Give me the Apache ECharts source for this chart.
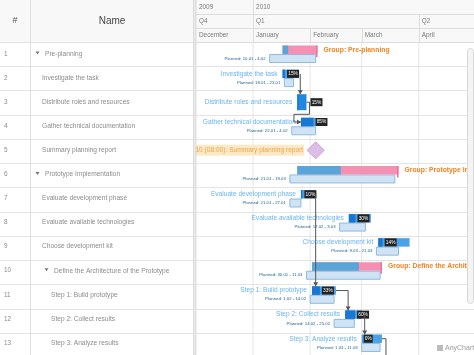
<!DOCTYPE html>
<html><head><meta charset="utf-8">
<script src="https://cdn.jsdelivr.net/npm/echarts@6/dist/echarts.min.js"></script>
<style>html,body{margin:0;padding:0;background:#fff}#c{width:474px;height:355px}</style>
</head><body><div id="c"></div>
<script>
// ---------- data ----------
const rowNumbers = ['1','2','3','4','5','6','7','8','9','10','11','12','13'];
const taskNames = ['Pre-planning','Investigate the task','Distribute roles and resources','Gather technical documentation','Summary planning report','Prototype Implementation','Evaluate development phase','Evaluate available technologies','Choose development kit','Define the Architecture of the Prototype','Step 1: Build prototype','Step 2: Collect results','Step 3: Analyze results'];
const taskLevels = [0,1,1,1,1,0,1,1,1,1,2,2,2];
const taskKinds = ['group','task','task','task','milestone','group','task','task','task','group','task','task','task'];
const actualStart = ['2010-01-17','2010-01-17','2010-01-25','2010-01-27','2010-02-04','2010-01-25','2010-01-27','2010-02-22','2010-03-10','2010-02-02','2010-02-02','2010-02-20','2010-03-01'];
const actualEnd   = ['2010-02-05','2010-01-26','2010-01-30','2010-02-04',null,'2010-03-21','2010-02-04','2010-03-06','2010-03-27','2010-03-12','2010-02-15','2010-03-01','2010-03-12'];
const progressPct = [16,15,15,85,null,43,10,30,14,67,33,60,0];
const plannedStart = ['2010-01-10','2010-01-18',null,'2010-01-22',null,'2010-01-21','2010-01-21','2010-02-17','2010-03-09','2010-01-30','2010-02-01','2010-02-14','2010-03-01'];
const plannedEnd   = ['2010-02-04','2010-01-23',null,'2010-02-04',null,'2010-03-19','2010-01-27','2010-03-03','2010-03-21','2010-03-11','2010-02-14','2010-02-25','2010-03-11'];
const milestoneText = '10 (08:00): Summary planning report';
const linkFrom = [1,2,6,10,11,12];
const linkTo   = [2,3,10,11,12,-1];
const yearLabels = ['2009','2010'];
const yearStarts = ['2009-01-01','2010-01-01'];
const quarterLabels = ['Q4','Q1','Q2'];
const quarterStarts = ['2009-10-01','2010-01-01','2010-04-01'];
const monthLabels = ['December','January','February','March','April'];
const monthStarts = ['2009-12-01','2010-01-01','2010-02-01','2010-03-01','2010-04-01'];
const axisMin = '2009-12-01', axisMax = '2010-05-01';

// ---------- helpers ----------
const T = s => { const p = s.split('-').map(Number); return new Date(p[0], p[1]-1, p[2]).getTime(); };
const fmt = s => { const p = s.split('-').map(Number); return p[2] + '.' + String(p[1]).padStart(2,'0'); };
const FONT = '"Liberation Sans", Arial, sans-serif';
const f = (sz, w) => (w ? w + ' ' : '') + sz + 'px ' + FONT;
const N = taskNames.length;
const ROW = 24.25;
function txt(x, y, text, font, fill, align, valign, extra) {
  return Object.assign({type:'text', style:{x, y, text, font, fill, align: align||'left', verticalAlign: valign||'middle', textAlign: align||'left', textVerticalAlign: valign||'middle'}}, extra||{});
}

function renderTask(params, api) {
  const i = api.value(0);
  const cy = api.coord([T(axisMin), i])[1];
  const X = d => api.coord([T(d), i])[0];
  const kind = taskKinds[i];
  const ch = [];
  if (kind === 'milestone') {
    const x = X(actualStart[i]);
    const r = 8.5;
    const right = x - r - 3;
    ch.push({type:'rect', shape:{x: right - 112, y: cy - 5.5, width: 112, height: 11}, style:{fill:'#fde9c6'}});
    ch.push(txt(right - 1, cy, milestoneText, f(6.6), '#eda448', 'right'));
    ch.push({type:'polygon', shape:{points:[[x, cy - r],[x + r, cy],[x, cy + r],[x - r, cy]]}, style:{fill:'#dcbde6', stroke:'#c8a2d6', lineWidth:1}});
    return {type:'group', children: ch};
  }
  const hasPlan = plannedStart[i] != null;
  const aTop = hasPlan ? cy - 8.5 : cy - 8;
  const aH = hasPlan ? 8.5 : 16;
  const xs = X(actualStart[i]), xe = X(actualEnd[i]);
  const xp = xs + (xe - xs) * progressPct[i] / 100;
  let pe = xe;
  if (hasPlan) {
    const ps = X(plannedStart[i]); pe = X(plannedEnd[i]);
    ch.push({type:'rect', shape:{x: ps, y: cy + 0.5, width: pe - ps, height: 8}, style:{fill:'#cfe3f5', stroke:'#8dbbe0', lineWidth:1}});
    ch.push(txt(ps - 4, cy + 4.5, 'Planned: ' + fmt(plannedStart[i]) + ' - ' + fmt(plannedEnd[i]), f(4.3), '#1d5f90', 'right'));
  }
  if (kind === 'group') {
    ch.push({type:'rect', shape:{x: xs, y: aTop, width: xe - xs, height: aH}, style:{fill:'#f590b2'}});
    ch.push({type:'rect', shape:{x: xs, y: aTop, width: xp - xs, height: aH}, style:{fill:'#59a5da'}});
    ch.push({type:'rect', shape:{x: xe - 1.5, y: aTop, width: 1.5, height: aH + 3}, style:{fill:'#e9749d'}});
    ch.push(txt(Math.max(xe, pe) + 6, aTop + aH / 2, 'Group: ' + taskNames[i], f(6.8, 'bold'), '#f0831e', 'left'));
  } else {
    ch.push({type:'rect', shape:{x: xs, y: aTop, width: xe - xs, height: aH}, style:{fill: hasPlan ? '#4aa3e6' : '#1f87de'}});
    ch.push({type:'rect', shape:{x: xs, y: aTop, width: xp - xs, height: aH}, style:{fill:'#1976d2'}});
    ch.push(txt(xs - 5, aTop + aH / 2, taskNames[i], f(6.6), '#6bb4ef', 'right'));
    const label = progressPct[i] + '%';
    const bw = label.length * 3 + 3;
    const bx = hasPlan ? xp + 2 : xe + 4;
    const by = aTop + aH / 2 - 4;
    ch.push({type:'rect', shape:{x: bx, y: by, width: bw, height: 8}, style:{fill:'#232323'}});
    ch.push(txt(bx + bw / 2, by + 4, label, f(4.8), '#ffffff', 'center'));
  }
  return {type:'group', children: ch};
}

function barGeom(api, i) {
  const cy = api.coord([T(axisMin), i])[1];
  const hasPlan = plannedStart[i] != null;
  return {
    cy,
    top: hasPlan ? cy - 8.5 : cy - 8,
    mid: hasPlan ? cy - 4.25 : cy,
    xs: api.coord([T(actualStart[i]), i])[0],
    xe: api.coord([T(actualEnd[i]), i])[0]
  };
}

function renderLink(params, api) {
  const p = api.value(0), s = api.value(1);
  const a = barGeom(api, p);
  const col = '#555555';
  const ch = [];
  const line = pts => ch.push({type:'polyline', shape:{points: pts}, style:{stroke: col, lineWidth: 1, fill: null}});
  const arrowDown = (x, y) => ch.push({type:'polygon', shape:{points:[[x - 2.5, y - 4],[x + 2.5, y - 4],[x, y]]}, style:{fill: col}});
  const arrowRight = (x, y) => ch.push({type:'polygon', shape:{points:[[x - 4, y - 2.5],[x - 4, y + 2.5],[x, y]]}, style:{fill: col}});
  if (s < 0) {
    line([[a.xe, a.mid],[a.xe + 4, a.mid],[a.xe + 4, a.cy + ROW]]);
    return {type:'group', children: ch};
  }
  const b = barGeom(api, s);
  const d = a.xe - b.xs;
  if (d < -3) {
    const x = b.xs + 3;
    line([[a.xe, a.mid],[x, a.mid],[x, b.top]]);
    arrowDown(x, b.top);
  } else if (d <= 5) {
    const x = Math.max(a.xe, b.xs + 3);
    line([[x, a.mid],[x, b.top]]);
    arrowDown(x, b.top);
  } else {
    const yb = a.cy + ROW / 2;
    line([[a.xe, a.mid],[a.xe + 3, a.mid],[a.xe + 3, yb],[b.xs - 7, yb],[b.xs - 7, b.mid],[b.xs, b.mid]]);
    arrowRight(b.xs, b.mid);
  }
  return {type:'group', children: ch};
}

const chart = echarts.init(document.getElementById('c'));
chart.setOption({
  animation: false,
  grid: {left: 196, top: 42, right: 0, height: N * ROW, containLabel: false},
  xAxis: {type: 'time', min: T(axisMin), max: T(axisMax), show: false},
  yAxis: {type: 'category', inverse: true, data: rowNumbers, show: false},
  series: [
    {type: 'custom', renderItem: renderTask, clip: true, z: 3, data: taskNames.map((_, i) => [i])},
    {type: 'custom', renderItem: renderLink, clip: true, z: 4, data: linkFrom.map((p, k) => [p, linkTo[k]])}
  ]
});

// ---------- table, header and grid lines via the axes ----------
const px = d => chart.convertToPixel({xAxisIndex: 0}, T(d));
const py = i => chart.convertToPixel({yAxisIndex: 0}, i);
const L = 196, W = 474;
const g = [];
const gl = (x1, y1, x2, y2, c, w) => g.push({type:'line', shape:{x1, y1, x2, y2}, style:{stroke: c, lineWidth: w || 1}, silent: true});
const gt = (x, y, t, font, fill, align, z) => g.push(Object.assign(txt(x, y, t, font, fill, align), {z: z || 10}));

// header backgrounds
g.push({type:'rect', shape:{x:0, y:0, width:W, height:42}, style:{fill:'#f8f8f8'}});
// body month lines
monthStarts.forEach(d => { const x = px(d); if (x > L + 1) gl(x, 42, x, 355, '#e6e6e6'); });
// row lines
for (let k = 0; k <= N; k++) {
  const y = Math.round(py(0) - ROW / 2 + k * ROW) + 0.5;
  gl(0, y, W, y, '#e3e3e3');
}
// header bands
[[yearLabels, yearStarts, 0], [quarterLabels, quarterStarts, 14], [monthLabels, monthStarts, 28]].forEach(([labs, starts, y0]) => {
  labs.forEach((lab, k) => {
    const x = px(starts[k]);
    if (x > L + 1) gl(Math.round(x) + 0.5, y0, Math.round(x) + 0.5, y0 + 14, '#dddddd');
    gt(Math.max(x, L) + 3, y0 + 7.5, lab, f(6.4), '#7a7a7a', 'left');
  });
  gl(L, y0 + 14.5, W, y0 + 14.5, '#dddddd');
});
// table header
gt(15, 21, '#', f(9), '#555555', 'center');
gt(112, 21, 'Name', f(10), '#474747', 'center');
gl(30.5, 0, 30.5, 355, '#e0e0e0');
// table rows
taskNames.forEach((name, i) => {
  const y = py(i);
  gt(4, y, rowNumbers[i], f(6.4), '#8a8a8a', 'left');
  const isGroup = taskKinds[i] === 'group';
  const lv = taskLevels[i];
  let tx;
  if (isGroup) {
    const ax = lv === 0 ? 37.5 : 46.5;
    g.push({type:'polygon', shape:{points:[[ax - 2, y - 2.5],[ax + 2, y - 2.5],[ax, y + 0.5]]}, style:{fill:'#777777'}, z: 10});
    tx = lv === 0 ? 45 : 54;
  } else {
    tx = lv === 1 ? 42 : 51;
  }
  gt(tx, y, name, f(6.6), '#8c8c8c', 'left');
});
// splitter between table and timeline
g.push({type:'rect', shape:{x:193.5, y:0, width:2.5, height:355}, style:{fill:'#e9e9e9', stroke:'#cfcfcf', lineWidth:0.6}, z: 12});
// scrollbar
g.push({type:'rect', shape:{x:467.5, y:48.5, width:6, height:255, r:3}, style:{fill:'#f4f4f4', stroke:'#d8d8d8', lineWidth:1}, z: 20});
// credit
g.push({type:'rect', shape:{x:437, y:345, width:6, height:6}, style:{fill:'#bbbbbb'}, z: 20});
gt(445, 348.5, 'AnyChart', f(7), '#9a9a9a', 'left', 20);

chart.setOption({graphic: {elements: g}});
</script></body></html>
